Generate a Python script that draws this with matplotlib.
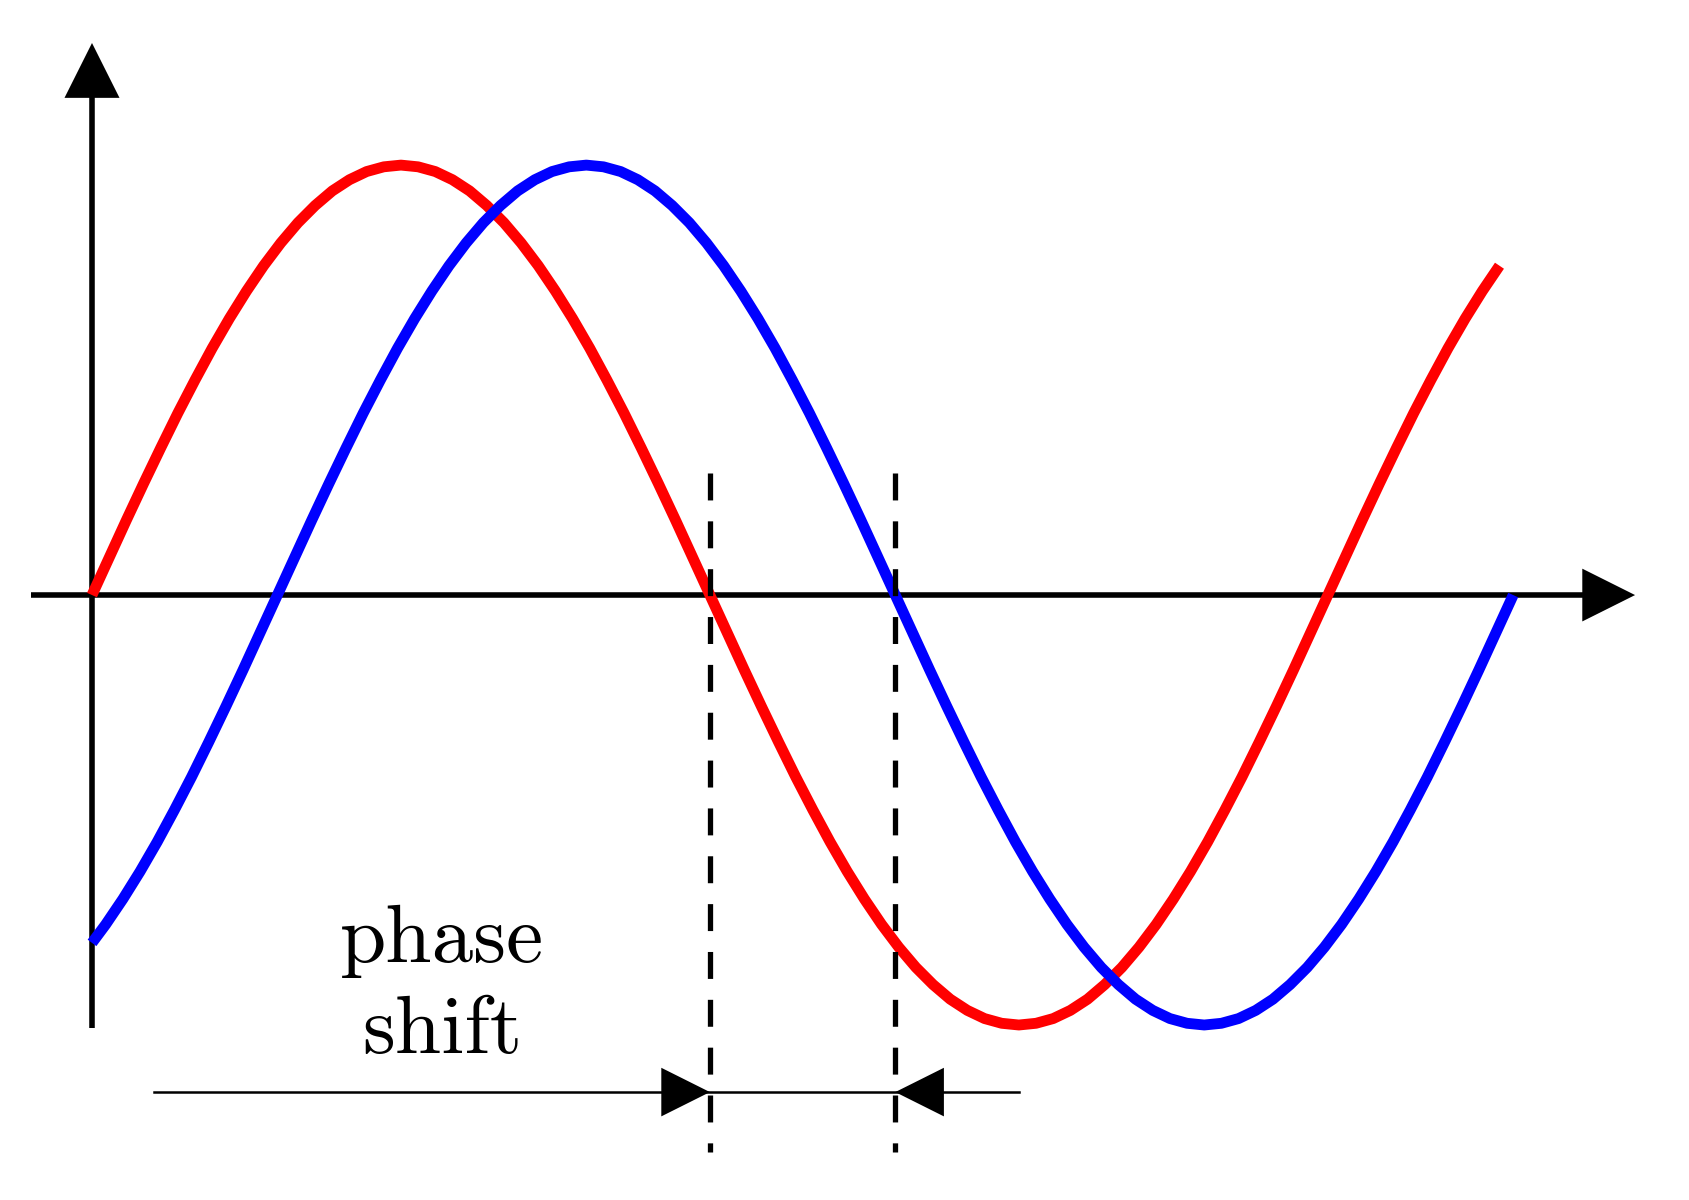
import matplotlib
matplotlib.use("Agg")
import matplotlib.pyplot as plt

plt.rcParams['lines.scale_dashes'] = False

# ---- data (phase angle in degrees, normalised amplitude) ----
red_x = list(range(0, 411, 5))
red_y = [0, .087, .174, .259, .342, .423, .5, .574, .643, .707, .766, .819, .866, .906, .940, .966, .985, .996, 1,
         .996, .985, .966, .940, .906, .866, .819, .766, .707, .643, .574, .5, .423, .342, .259, .174, .087, 0,
         -.087, -.174, -.259, -.342, -.423, -.5, -.574, -.643, -.707, -.766, -.819, -.866, -.906, -.940, -.966, -.985, -.996, -1,
         -.996, -.985, -.966, -.940, -.906, -.866, -.819, -.766, -.707, -.643, -.574, -.5, -.423, -.342, -.259, -.174, -.087, 0,
         .087, .174, .259, .342, .423, .5, .574, .643, .707, .766]

blue_x = [0] + list(range(4, 415, 5))
blue_y = [-.809, -.766, -.707, -.643, -.574, -.5, -.423, -.342, -.259, -.174, -.087,
          0, .087, .174, .259, .342, .423, .5, .574, .643, .707, .766, .819, .866, .906, .940, .966, .985, .996, 1,
          .996, .985, .966, .940, .906, .866, .819, .766, .707, .643, .574, .5, .423, .342, .259, .174, .087, 0,
          -.087, -.174, -.259, -.342, -.423, -.5, -.574, -.643, -.707, -.766, -.819, -.866, -.906, -.940, -.966, -.985, -.996, -1,
          -.996, -.985, -.966, -.940, -.906, -.866, -.819, -.766, -.707, -.643, -.574, -.5, -.423, -.342, -.259, -.174, -.087, 0]

shift_start = 180   # red zero crossing (deg)
shift_end = 234     # blue zero crossing (deg)
label_lines = ["phase", "shift"]

# ---- figure ----
fig = plt.figure(figsize=(16.9, 12), dpi=100)
ax = fig.add_axes([0, 0, 1, 1])
ax.set_xlim(-26.8, 465.5)
ax.set_ylim(-1.407, 1.384)
ax.axis('off')

# axes: shafts + filled arrow heads
ax.plot([0, 0], [-1.007, 1.17], color='black', lw=4.0, solid_capstyle='butt', zorder=1)
ax.plot([-17.8, 435], [0, 0], color='black', lw=4.0, solid_capstyle='butt', zorder=1)
ax.annotate('', xy=(0, 1.284), xytext=(0, 1.0),
            arrowprops=dict(arrowstyle='-|>,head_length=3.95,head_width=1.98',
                            lw=0, color='black', shrinkA=0, shrinkB=0, mutation_scale=10),
            zorder=1)
ax.annotate('', xy=(449.5, 0), xytext=(420, 0),
            arrowprops=dict(arrowstyle='-|>,head_length=3.8,head_width=1.9',
                            lw=0, color='black', shrinkA=0, shrinkB=0, mutation_scale=10),
            zorder=1)

# waves
ax.plot(red_x, red_y, color='#ff0000', lw=7.8, solid_capstyle='butt',
        solid_joinstyle='round', zorder=2)
ax.plot(blue_x, blue_y, color='#0000ff', lw=7.8, solid_capstyle='butt',
        solid_joinstyle='round', zorder=3)

# dashed markers
for xv in (shift_start, shift_end):
    ax.plot([xv, xv], [0.284, -1.295], color='black', lw=3.8,
            dashes=(19.4, 15.05), dash_capstyle='butt', zorder=4)

# phase shift dimension line
ax.plot([18, 270], [-1.156, -1.156], color='black', lw=1.8, zorder=4)
ax.annotate('', xy=(shift_start, -1.156), xytext=(150, -1.156),
            arrowprops=dict(arrowstyle='-|>,head_length=3.5,head_width=1.75',
                            lw=0, color='black', shrinkA=0, shrinkB=0, mutation_scale=10),
            zorder=4)
ax.annotate('', xy=(shift_end, -1.156), xytext=(262, -1.156),
            arrowprops=dict(arrowstyle='-|>,head_length=3.5,head_width=1.75',
                            lw=0, color='black', shrinkA=0, shrinkB=0, mutation_scale=10),
            zorder=4)

# label
ax.text(102, -0.853, label_lines[0], ha='center', va='baseline',
        fontsize=60, family=['cmr10', 'DejaVu Serif'], color='black')
ax.text(102, -1.065, label_lines[1], ha='center', va='baseline',
        fontsize=60, family=['cmr10', 'DejaVu Serif'], color='black')

fig.savefig('out.png', dpi=100, facecolor='white')
